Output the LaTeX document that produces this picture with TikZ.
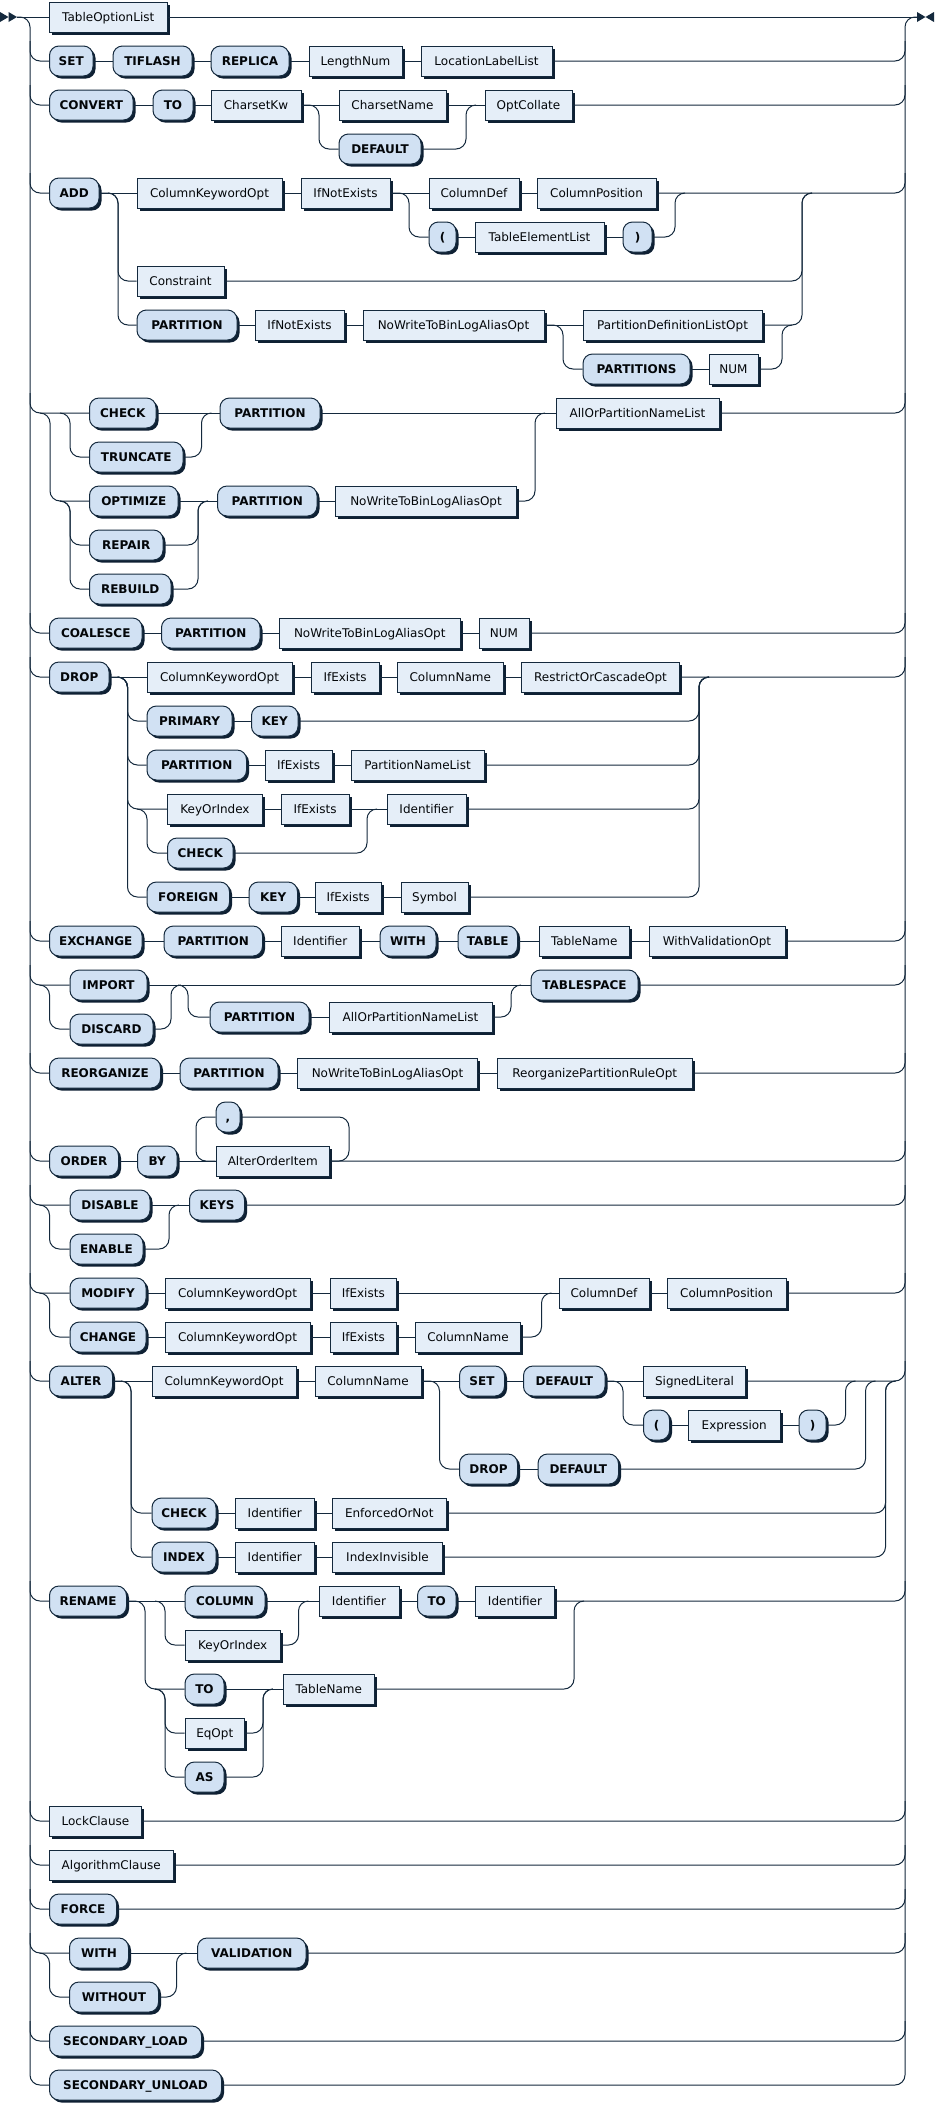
\documentclass[tikz,border=0pt]{standalone}
\usepackage{fontspec}
\setmainfont{DejaVu Sans}
\usetikzlibrary{shadows}
\definecolor{ln}{HTML}{14293D}
\definecolor{sh}{HTML}{0E2033}
\definecolor{tfill}{HTML}{D1E1F3}
\definecolor{nfill}{HTML}{E5EEF8}
\newcommand\fsz{\fontsize{12}{14}\selectfont}
\tikzset{
 rr/.style={draw=ln, line width=1pt, rounded corners=10pt},
 rbox/.style={draw=ln, line width=1pt, minimum height=30pt, inner sep=0pt, text height=8.7pt, text depth=0pt, text=black!85!ln,
   drop shadow={shadow xshift=2.5pt, shadow yshift=-2.5pt, fill=sh, opacity=1}},
 term/.style={rbox, fill=tfill, rounded corners=9.5pt, font=\fsz\bfseries},
 nterm/.style={rbox, fill=nfill, font=\fsz},
 endmark/.style={fill=ln}
}
\newcommand\Tbox[5]{\pgfmathsetmacro\bw{#3-#2}\pgfmathsetmacro\bx{(#2+#3)/2}\node[term, minimum width=\bw pt] (#1) at (\bx,#4) {#5};}
\newcommand\Nbox[5]{\pgfmathsetmacro\bw{#3-#2}\pgfmathsetmacro\bx{(#2+#3)/2}\node[nterm, minimum width=\bw pt] (#1) at (\bx,#4) {#5};}
\begin{document}
\begin{tikzpicture}[x=1pt,y=-1pt]
\fill[white] (0,0) rectangle (935,2105);
\useasboundingbox (0,0) rectangle (935,2105);
% markers
\coordinate (st) at (17,17); \coordinate (en) at (917,17);
\fill[endmark] (0,12) -- (8.5,17) -- (0,22) -- cycle;
\fill[endmark] (8.5,12) -- (17,17) -- (8.5,22) -- cycle;
\fill[endmark] (917,12) -- (925.5,17) -- (917,22) -- cycle;
\fill[endmark] (934,12) -- (925.5,17) -- (934,22) -- cycle;
% ---------- nodes
\Nbox{tol}{49.5}{167}{17}{TableOptionList}
% r1
\Tbox{set1}{49.5}{93}{61}{SET}
\Tbox{tiflash}{113}{192}{61}{TIFLASH}
\Tbox{replica}{211}{289}{61}{REPLICA}
\Nbox{lennum}{309}{402}{61}{LengthNum}
\Nbox{loclab}{421}{552}{61}{LocationLabelList}
% r2
\Tbox{convert}{49.5}{133}{105}{CONVERT}
\Tbox{to2}{153}{193}{105}{TO}
\Nbox{charsetkw}{211}{301}{105}{CharsetKw}
\Nbox{charsetname}{339}{446}{105}{CharsetName}
\Tbox{default3}{339}{421}{149}{DEFAULT}
\Nbox{optcollate}{485}{572}{105}{OptCollate}
% r4
\Tbox{add}{49.5}{99}{193}{ADD}
\Nbox{cko4}{137}{282}{193}{ColumnKeywordOpt}
\Nbox{ifne4}{301}{390}{193}{IfNotExists}
\Nbox{coldef4}{429}{519}{193}{ColumnDef}
\Nbox{colpos4}{537}{656}{193}{ColumnPosition}
\Tbox{lp5}{429}{456}{237}{(}
\Nbox{tel5}{475}{604}{237}{TableElementList}
\Tbox{rp5}{623}{652}{237}{)}
\Nbox{constraint}{137}{224}{281}{Constraint}
\Tbox{part7}{137}{237}{325}{PARTITION}
\Nbox{ifne7}{255}{344}{325}{IfNotExists}
\Nbox{nowrite7}{363}{544}{325}{NoWriteToBinLogAliasOpt}
\Nbox{pdlo}{583}{762}{325}{PartitionDefinitionListOpt}
\Tbox{partitions}{583}{690}{369}{PARTITIONS}
\Nbox{num8}{709}{758}{369}{NUM}
% r9
\Tbox{check9}{89.5}{156}{413}{CHECK}
\Tbox{part9}{220}{320}{413}{PARTITION}
\Nbox{aopnl9}{556}{719}{413}{AllOrPartitionNameList}
\Tbox{truncate}{89.5}{183}{457}{TRUNCATE}
\Tbox{optimize}{89.5}{178}{501}{OPTIMIZE}
\Tbox{part11}{217.5}{317}{501}{PARTITION}
\Nbox{nowrite11}{335.5}{516.5}{501}{NoWriteToBinLogAliasOpt}
\Tbox{repair}{89.5}{163}{545}{REPAIR}
\Tbox{rebuild}{89.5}{171}{589}{REBUILD}
% r14
\Tbox{coalesce}{49.5}{142}{633}{COALESCE}
\Tbox{part14}{161.5}{260}{633}{PARTITION}
\Nbox{nowrite14}{279}{460.5}{633}{NoWriteToBinLogAliasOpt}
\Nbox{num14}{479}{529}{633}{NUM}
% r15
\Tbox{drop15}{49.5}{109}{677}{DROP}
\Nbox{cko15}{147}{292}{677}{ColumnKeywordOpt}
\Nbox{ife15}{311}{379}{677}{IfExists}
\Nbox{colname15}{397.5}{503}{677}{ColumnName}
\Nbox{rocopt}{521.5}{679.5}{677}{RestrictOrCascadeOpt}
\Tbox{primary}{147}{232}{721}{PRIMARY}
\Tbox{key16}{251.5}{298}{721}{KEY}
\Tbox{part17}{147}{246.5}{765}{PARTITION}
\Nbox{ife17}{265}{332}{765}{IfExists}
\Nbox{pnl17}{351}{484}{765}{PartitionNameList}
\Nbox{koi18}{167.5}{262.5}{809}{KeyOrIndex}
\Nbox{ife18}{281}{349}{809}{IfExists}
\Nbox{ident18}{387}{466}{809}{Identifier}
\Tbox{check19}{167.5}{233}{853}{CHECK}
\Tbox{foreign}{147}{229.5}{897}{FOREIGN}
\Tbox{key20}{249}{297.5}{897}{KEY}
\Nbox{ife20}{315}{381}{897}{IfExists}
\Nbox{symbol}{401}{468}{897}{Symbol}
% r21
\Tbox{exchange}{49.5}{142}{941}{EXCHANGE}
\Tbox{part21}{164}{262.5}{941}{PARTITION}
\Nbox{ident21}{281}{359.5}{941}{Identifier}
\Tbox{with21}{380}{436}{941}{WITH}
\Tbox{table21}{458}{517.5}{941}{TABLE}
\Nbox{tablename21}{539.5}{629}{941}{TableName}
\Nbox{wvo}{649}{785}{941}{WithValidationOpt}
% r22
\Tbox{import}{70}{147}{985}{IMPORT}
\Tbox{discard}{70}{153}{1029}{DISCARD}
\Tbox{part22}{210}{309}{1017}{PARTITION}
\Nbox{aopnl22}{329}{492}{1017}{AllOrPartitionNameList}
\Tbox{tablespace}{531}{638}{985}{TABLESPACE}
% r24
\Tbox{reorganize}{49.5}{160.5}{1073}{REORGANIZE}
\Tbox{part24}{180}{278}{1073}{PARTITION}
\Nbox{nowrite24}{297.5}{477.5}{1073}{NoWriteToBinLogAliasOpt}
\Nbox{rpro}{497}{692.5}{1073}{ReorganizePartitionRuleOpt}
% r26
\Tbox{order}{49.5}{118.5}{1161}{ORDER}
\Tbox{by}{137.5}{177}{1161}{BY}
\Tbox{comma}{216}{240}{1117}{,}
\Nbox{aoi}{216}{329.5}{1161}{AlterOrderItem}
% r27
\Tbox{disable}{70}{150}{1205}{DISABLE}
\Tbox{enable}{70}{143}{1249}{ENABLE}
\Tbox{keys}{189.5}{244.5}{1205}{KEYS}
% r29
\Tbox{modify}{70}{146}{1293}{MODIFY}
\Nbox{cko29}{165}{310}{1293}{ColumnKeywordOpt}
\Nbox{ife29}{330}{396.5}{1293}{IfExists}
\Nbox{coldef29}{559}{649}{1293}{ColumnDef}
\Nbox{colpos29}{667}{786}{1293}{ColumnPosition}
\Tbox{change}{70}{146}{1337}{CHANGE}
\Nbox{cko30}{165}{310}{1337}{ColumnKeywordOpt}
\Nbox{ife30}{330}{396.5}{1337}{IfExists}
\Nbox{colname30}{415.5}{520.5}{1337}{ColumnName}
% r31
\Tbox{alter}{49.5}{112.5}{1381}{ALTER}
\Nbox{cko31}{152}{296}{1381}{ColumnKeywordOpt}
\Nbox{colname31}{315}{421}{1381}{ColumnName}
\Tbox{set31}{459.5}{504.5}{1381}{SET}
\Tbox{default31}{523.5}{605}{1381}{DEFAULT}
\Nbox{signedlit}{643.5}{745.5}{1381}{SignedLiteral}
\Tbox{lp32}{643.5}{669.5}{1425}{(}
\Nbox{expr}{688.5}{780}{1425}{Expression}
\Tbox{rp32}{799}{826}{1425}{)}
\Tbox{drop33}{459.5}{517.5}{1469}{DROP}
\Tbox{default33}{538}{618.5}{1469}{DEFAULT}
\Tbox{check34}{152}{216}{1513}{CHECK}
\Nbox{ident34}{235.5}{314}{1513}{Identifier}
\Nbox{enforced}{332.5}{446}{1513}{EnforcedOrNot}
\Tbox{index35}{152}{216}{1557}{INDEX}
\Nbox{ident35}{235.5}{314}{1557}{Identifier}
\Nbox{idxinv}{332.5}{442.5}{1557}{IndexInvisible}
% r36
\Tbox{rename}{49.5}{126.5}{1601}{RENAME}
\Tbox{column}{185}{265}{1601}{COLUMN}
\Nbox{ident36a}{319}{399}{1601}{Identifier}
\Tbox{to36}{417.5}{456}{1601}{TO}
\Nbox{ident36b}{475.5}{554.5}{1601}{Identifier}
\Nbox{koi37}{185}{280.5}{1645}{KeyOrIndex}
\Tbox{to38}{185}{224}{1689}{TO}
\Nbox{tablename38}{283.5}{374}{1689}{TableName}
\Nbox{eqopt}{185}{244.5}{1733}{EqOpt}
\Tbox{as40}{185}{224}{1777}{AS}
% r41..47
\Nbox{lock}{49.5}{141.5}{1821}{LockClause}
\Nbox{algo}{49.5}{173}{1865}{AlgorithmClause}
\Tbox{force}{49.5}{116.5}{1909}{FORCE}
\Tbox{with44}{69.5}{128.5}{1953}{WITH}
\Tbox{without}{69.5}{158.5}{1997}{WITHOUT}
\Tbox{validation}{197.5}{306}{1953}{VALIDATION}
\Tbox{secload}{49.5}{201.5}{2041}{SECONDARY\_LOAD}
\Tbox{secunload}{49.5}{221.5}{2085}{SECONDARY\_UNLOAD}
% ---------- rails
\draw[rr] (st) -- (tol.west);
\draw[rr] (tol.east) -- (en);
\draw[rr] (st) -| (30,2085) -- (secunload.west);
\draw[rr] (secunload.east) -| (905,17) -- (en);
% row entries
\foreach \y/\n in {61/set1,105/convert,193/add,413/check9,633/coalesce,677/drop15,941/exchange,985/import,1073/reorganize,1161/order,1205/disable,1293/modify,1381/alter,1601/rename,1821/lock,1865/algo,1909/force,1953/with44,2041/secload}
  {\draw[rr] (30,\y-20) |- (\n.west);}
% row exits
\foreach \y/\n in {61/loclab,105/optcollate,193/colpos4,413/aopnl9,633/num14,677/rocopt,941/wvo,985/tablespace,1073/rpro,1161/aoi,1205/keys,1293/colpos29,1381/signedlit,1601/ident36b,1821/lock,1865/algo,1909/force,1953/validation,2041/secload}
  {\draw[rr] (\n.east) -| (905,\y-20);}
% ---------- chains
\draw[rr] (set1) -- (tiflash) -- (replica) -- (lennum) -- (loclab);
\draw[rr] (convert) -- (to2) -- (charsetkw) -- (charsetname) -- (optcollate);
\draw[rr] (charsetkw.east) -| (319,149) -- (default3.west);
\draw[rr] (default3.east) -| (466,105) -- (476,105);
% ADD
\draw[rr] (add) -- (cko4) -- (ifne4) -- (coldef4) -- (colpos4);
\draw[rr] (add.east) -| (118,325) -- (part7.west);
\draw[rr] (108,193) -| (118,281) -- (constraint.west);
\draw[rr] (ifne4.east) -| (409,237) -- (lp5.west);
\draw[rr] (lp5) -- (tel5) -- (rp5);
\draw[rr] (rp5.east) -| (675,193) -- (685,193);
\draw[rr] (constraint.east) -| (802,193) -- (812,193);
\draw[rr] (part7) -- (ifne7) -- (nowrite7) -- (pdlo);
\draw[rr] (nowrite7.east) -| (563,369) -- (partitions.west);
\draw[rr] (partitions) -- (num8);
\draw[rr] (num8.east) -| (782,325) -- (792,325);
\draw[rr] (pdlo.east) -| (802,193) -- (812,193);
% CHECK/OPTIMIZE
\draw[rr] (check9) -- (part9) -- (aopnl9);
\draw[rr] (40,413) -| (50,501) -- (optimize.west);
\draw[rr] (60,413) -| (70,457) -- (truncate.west);
\draw[rr] (60,501) -| (70,589) -- (rebuild.west);
\draw[rr] (60,501) -| (70,545) -- (repair.west);
\draw[rr] (truncate.east) -| (201.5,413) -- (211.5,413);
\draw[rr] (repair.east) -| (198,501) -- (208,501);
\draw[rr] (rebuild.east) -| (198,501) -- (208,501);
\draw[rr] (optimize) -- (part11) -- (nowrite11);
\draw[rr] (nowrite11.east) -| (535,413) -- (545,413);
% COALESCE
\draw[rr] (coalesce) -- (part14) -- (nowrite14) -- (num14);
% DROP
\draw[rr] (drop15) -- (cko15) -- (ife15) -- (colname15) -- (rocopt);
\draw[rr] (drop15.east) -| (127.5,897) -- (foreign.west);
\draw[rr] (117.5,677) -| (127.5,721) -- (primary.west);
\draw[rr] (117.5,677) -| (127.5,765) -- (part17.west);
\draw[rr] (117.5,677) -| (127.5,809) -- (koi18.west);
\draw[rr] (137,809) -| (147,853) -- (check19.west);
\draw[rr] (primary) -- (key16);
\draw[rr] (part17) -- (ife17) -- (pnl17);
\draw[rr] (koi18) -- (ife18) -- (ident18);
\draw[rr] (check19.east) -| (367,809) -- (377,809);
\draw[rr] (foreign) -- (key20) -- (ife20) -- (symbol);
\foreach \n in {key16,pnl17,ident18,symbol} {\draw[rr] (\n.east) -| (699,677) -- (709,677);}
% EXCHANGE
\draw[rr] (exchange) -- (part21) -- (ident21) -- (with21) -- (table21) -- (tablename21) -- (wvo);
% IMPORT
\draw[rr] (import) -- (tablespace);
\draw[rr] (39.5,985) -| (49.5,1029) -- (discard.west);
\draw[rr] (discard.east) -| (171,985) -- (181,985);
\draw[rr] (178,985) -| (188,1017) -- (part22.west);
\draw[rr] (part22) -- (aopnl22);
\draw[rr] (aopnl22.east) -| (511,985) -- (521,985);
% REORGANIZE
\draw[rr] (reorganize) -- (part24) -- (nowrite24) -- (rpro);
% ORDER BY
\draw[rr] (order) -- (by) -- (aoi);
\draw[rr] (aoi.east) -| (349,1117) -- (comma.east);
\draw[rr] (comma.west) -| (196,1161) -- (aoi.west);
% DISABLE
\draw[rr] (disable) -- (keys);
\draw[rr] (39.5,1205) -| (49.5,1249) -- (enable.west);
\draw[rr] (enable.east) -| (169,1205) -- (179,1205);
% MODIFY
\draw[rr] (modify) -- (cko29) -- (ife29) -- (coldef29) -- (colpos29);
\draw[rr] (39.5,1293) -| (49.5,1337) -- (change.west);
\draw[rr] (change) -- (cko30) -- (ife30) -- (colname30);
\draw[rr] (colname30.east) -| (541.5,1293) -- (551.5,1293);
% ALTER
\draw[rr] (alter) -- (cko31) -- (colname31) -- (set31) -- (default31) -- (signedlit);
\draw[rr] (alter.east) -| (131,1557) -- (index35.west);
\draw[rr] (121,1381) -| (131,1513) -- (check34.west);
\draw[rr] (colname31.east) -| (439.5,1469) -- (drop33.west);
\draw[rr] (drop33) -- (default33);
\draw[rr] (default31.east) -| (623,1425) -- (lp32.west);
\draw[rr] (lp32) -- (expr) -- (rp32);
\draw[rr] (rp32.east) -| (845.5,1381) -- (855.5,1381);
\draw[rr] (default33.east) -| (865.5,1381) -- (875.5,1381);
\draw[rr] (check34) -- (ident34) -- (enforced);
\draw[rr] (index35) -- (ident35) -- (idxinv);
\draw[rr] (enforced.east) -| (885.5,1381) -- (895.5,1381);
\draw[rr] (idxinv.east) -| (885.5,1381) -- (895.5,1381);
% RENAME
\draw[rr] (rename) -- (column) -- (ident36a) -- (to36) -- (ident36b);
\draw[rr] (rename.east) -| (145,1689) -- (to38.west);
\draw[rr] (155,1601) -| (165,1645) -- (koi37.west);
\draw[rr] (155,1689) -| (165,1777) -- (as40.west);
\draw[rr] (155,1689) -| (165,1733) -- (eqopt.west);
\draw[rr] (koi37.east) -| (298.5,1601) -- (308.5,1601);
\draw[rr] (to38) -- (tablename38);
\draw[rr] (eqopt.east) -| (263,1689) -- (273,1689);
\draw[rr] (as40.east) -| (263,1689) -- (273,1689);
\draw[rr] (tablename38.east) -| (574,1601) -- (584,1601);
% WITH
\draw[rr] (with44) -- (validation);
\draw[rr] (39.5,1953) -| (49.5,1997) -- (without.west);
\draw[rr] (without.east) -| (176.5,1953) -- (186.5,1953);
\end{tikzpicture}
\end{document}
